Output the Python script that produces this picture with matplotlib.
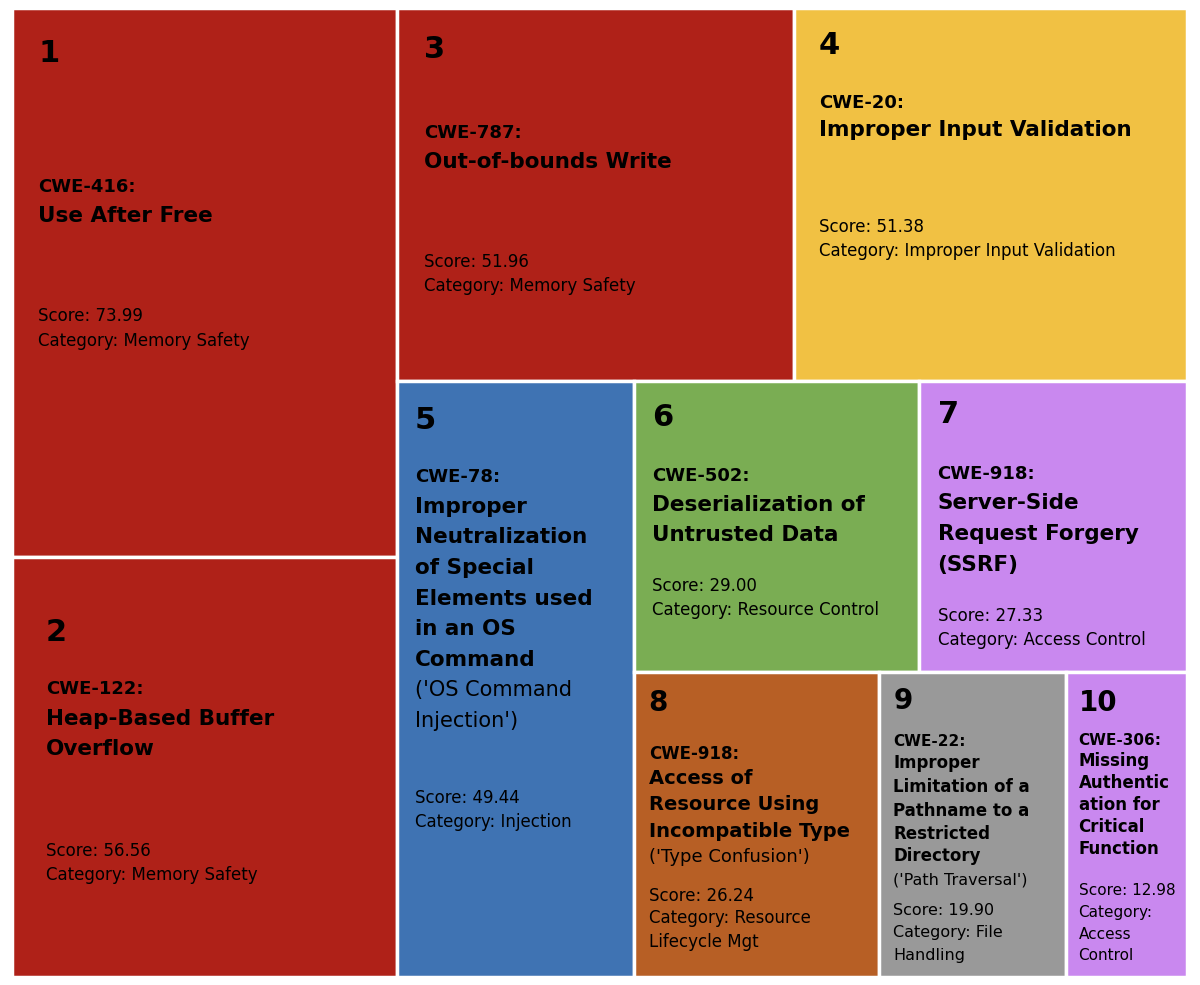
import matplotlib
matplotlib.use("Agg")
import matplotlib.pyplot as plt
from matplotlib.patches import Rectangle

ranks = ["1", "2", "3", "4", "5", "6", "7", "8", "9", "10"]
cwe_ids = ["CWE-416:", "CWE-122:", "CWE-787:", "CWE-20:", "CWE-78:",
           "CWE-502:", "CWE-918:", "CWE-918:", "CWE-22:", "CWE-306:"]
names = [
    ["Use After Free"],
    ["Heap-Based Buffer", "Overflow"],
    ["Out-of-bounds Write"],
    ["Improper Input Validation"],
    ["Improper", "Neutralization", "of Special", "Elements used", "in an OS", "Command"],
    ["Deserialization of", "Untrusted Data"],
    ["Server-Side", "Request Forgery", "(SSRF)"],
    ["Access of", "Resource Using", "Incompatible Type"],
    ["Improper", "Limitation of a", "Pathname to a", "Restricted", "Directory"],
    ["Missing", "Authentic", "ation for", "Critical", "Function"],
]
subtitles = [[], [], [], [], ["('OS Command", "Injection')"], [], [],
             ["('Type Confusion')"], ["('Path Traversal')"], []]
scores = [73.99, 56.56, 51.96, 51.38, 49.44, 29.00, 27.33, 26.24, 19.90, 12.98]
categories = [
    ["Category: Memory Safety"], ["Category: Memory Safety"], ["Category: Memory Safety"],
    ["Category: Improper Input Validation"], ["Category: Injection"],
    ["Category: Resource Control"], ["Category: Access Control"],
    ["Category: Resource", "Lifecycle Mgt"], ["Category: File", "Handling"],
    ["Category:", "Access", "Control"],
]
colors = ["#AF2118", "#AF2118", "#AF2118", "#F1C143", "#3F73B3",
          "#7AAD53", "#C988EF", "#B75F25", "#999999", "#C988EF"]

# how the rectangles are sliced: ("h", ...) side by side, ("v", ...) stacked
tree = ("h", [("v", [0, 1]),
              ("v", [("h", [2, 3]),
                     ("h", [4, ("v", [("h", [5, 6]), ("h", [7, 8, 9])])])])])

# text placement per box: dx, y offsets (num, cwe, names..., subs..., score, cats...)
offsets = [
    (26, [46, 179, 208, 308, 333]),
    (34, [75, 132, 162, 192, 294, 318]),
    (27, [42, 125, 154, 254, 278]),
    (25, [38, 95, 122, 219, 243]),
    (18, [39, 96, 126, 156, 187, 218, 248, 279, 309, 340, 417, 441]),
    (18, [36, 95, 124, 154, 205, 229]),
    (19, [33, 93, 122, 153, 184, 235, 259]),
    (15, [31, 82, 107, 133, 160, 185, 224, 246, 270]),
    (14, [29, 70, 91, 115, 139, 162, 184, 208, 239, 261, 284]),
    (13, [31, 69, 89, 111, 133, 155, 177, 219, 241, 263, 284]),
]
big = {"num": 22, "cwe": 13, "name": 15.5, "sub": 15, "body": 12}
sizes = [big] * 7 + [
    {"num": 20, "cwe": 12, "name": 14, "sub": 13, "body": 12},
    {"num": 20, "cwe": 11, "name": 12, "sub": 11.5, "body": 11.5},
    {"num": 20, "cwe": 11, "name": 12, "sub": 11, "body": 11},
]


def total(node):
    if isinstance(node, int):
        return scores[node]
    return sum(total(c) for c in node[1])


def layout(node, x, y, w, h, out):
    if isinstance(node, int):
        out[node] = (x, y, w, h)
        return
    kind, children = node
    s = total(node)
    for c in children:
        f = total(c) / s
        if kind == "h":
            layout(c, x, y, w * f, h, out)
            x += w * f
        else:
            layout(c, x, y, w, h * f, out)
            y += h * f


rects = {}
layout(tree, 12, 8, 1175, 969, rects)

fig = plt.figure(figsize=(12, 9.85), dpi=100)
ax = fig.add_axes([0, 0, 1, 1])
ax.set_xlim(0, 1200)
ax.set_ylim(985, 0)
ax.axis("off")

for i in range(len(scores)):
    x, y, w, h = rects[i]
    ax.add_patch(Rectangle((x, y), w, h, facecolor=colors[i], edgecolor="white", linewidth=2.5))
    lines = [(ranks[i], "num", "bold"), (cwe_ids[i], "cwe", "bold")]
    lines += [(t, "name", "bold") for t in names[i]]
    lines += [(t, "sub", "normal") for t in subtitles[i]]
    lines += [("Score: {0:.2f}".format(scores[i]), "body", "normal")]
    lines += [(t, "body", "normal") for t in categories[i]]
    dx, dys = offsets[i]
    for (txt, kind, weight), dy in zip(lines, dys):
        ax.text(x + dx, y + dy, txt, fontsize=sizes[i][kind], fontweight=weight,
                color="black", va="center", ha="left", family="DejaVu Sans")

fig.savefig("out.png")
